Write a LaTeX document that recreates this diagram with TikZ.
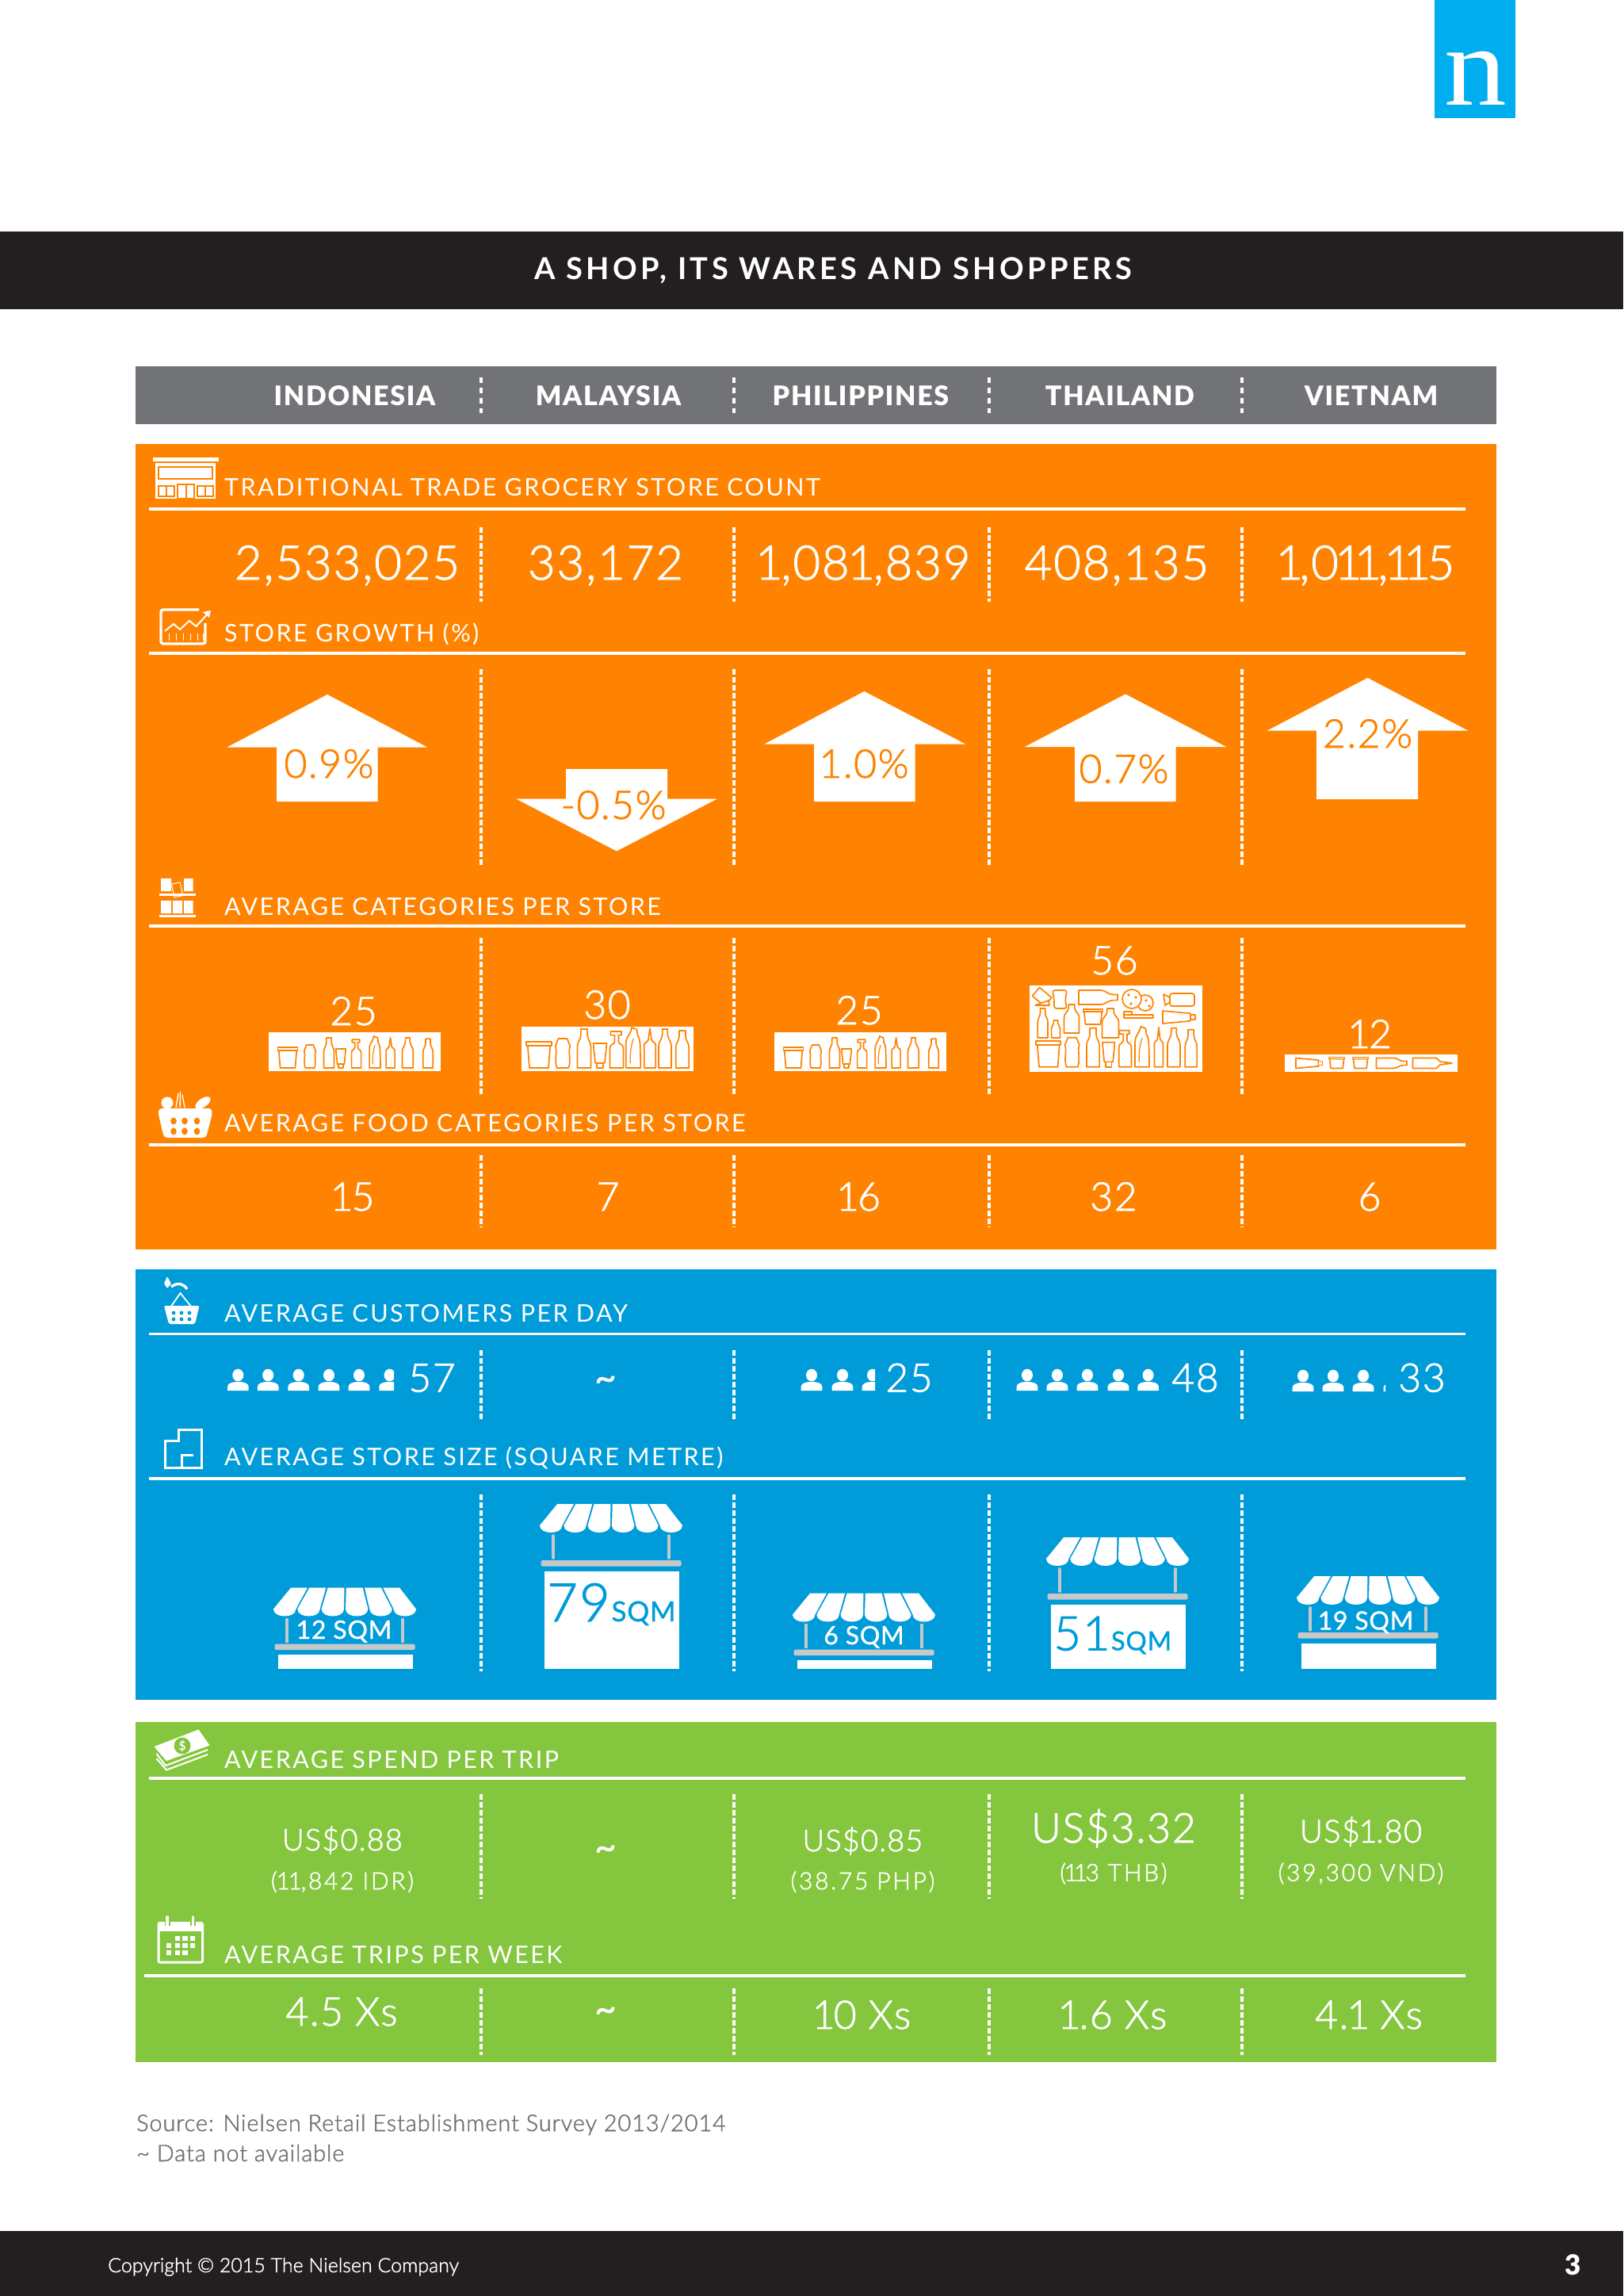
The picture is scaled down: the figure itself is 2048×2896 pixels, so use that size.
\documentclass[tikz,border=0pt]{standalone}
\usepackage{fontspec}
\setmainfont{Lato}
\newfontfamily\lightface[LetterSpace=3,FakeBold=1.5]{Lato Light}
\newfontfamily\wideface[LetterSpace=9,FakeBold=1.5]{Lato Light}
\newfontfamily\plainface[FakeBold=1.5]{Lato Light}
\newfontfamily\headface[LetterSpace=8]{Lato}
\newfontfamily\boldface[LetterSpace=5]{Lato Black}
\newfontfamily\titleface[LetterSpace=11.5]{Lato Bold}
\newfontfamily\midface[LetterSpace=2,FakeBold=1]{Lato}
\newfontfamily\logoface{Liberation Serif}
\newcommand{\lt}[1]{\lightface\fontsize{#1}{#1}\selectfont}
\newcommand{\bd}[1]{\boldface\fontsize{#1}{#1}\selectfont}
\newcommand{\md}[1]{\midface\fontsize{#1}{#1}\selectfont}
% the digit one of this font is too wide
\newcommand{\one}{\kern-.085em 1\kern-.085em}
\newcommand{\onea}{\kern-.04em 1\kern-.04em}
\definecolor{brandorange}{HTML}{FF8300}
\definecolor{brandblue}{HTML}{009CDA}
\definecolor{brandgreen}{HTML}{85C63F}
\definecolor{branddark}{HTML}{231F20}
\definecolor{brandgrey}{HTML}{727376}
\definecolor{brandcyan}{HTML}{00AEEF}
\definecolor{polegrey}{HTML}{C7C8CA}
\tikzset{
  val/.style={anchor=base,inner sep=0pt,text=white},
  heading/.style={anchor=base west,inner sep=0pt,text=white,font=\headface\fontsize{30.5}{30.5}\selectfont},
  rule/.style={white,line width=3.2pt},
  sep/.style={white,line width=3.4pt,dash pattern=on 6.5pt off 3.5pt},
  goods/.style={draw=brandorange,fill=white,line width=1.7pt,line join=round},
  tub/.pic={\path[goods] (-.45,-.85) -- (-.38,0) -- (.38,0) -- (.45,-.85) -- cycle;
    \path[goods] (-.5,-1) rectangle (.5,-.85);},
  bottle/.pic={\path[goods] (-.5,0) -- (-.5,-.55) .. controls (-.5,-.7) and (-.2,-.75) .. (-.2,-.88) -- (-.2,-1) -- (.2,-1) -- (.2,-.88) .. controls (.2,-.75) and (.5,-.7) .. (.5,-.55) -- (.5,0) -- cycle;},
  slim/.pic={\path[goods] (-.45,0) -- (-.45,-.55) .. controls (-.45,-.68) and (-.22,-.72) .. (-.22,-.85) -- (-.22,-1) -- (.22,-1) -- (.22,-.85) .. controls (.22,-.72) and (.45,-.68) .. (.45,-.55) -- (.45,0) -- cycle;},
  smallbot/.pic={\path[goods] (-.4,0) .. controls (-.6,-.3) and (-.35,-.5) .. (-.5,-.75) -- (-.3,-1) -- (.3,-1) -- (.5,-.75) .. controls (.35,-.5) and (.6,-.3) .. (.4,0) -- cycle;},
  tubedown/.pic={\path[goods] (-.5,-1) -- (.5,-1) -- (.35,-.2) -- (-.35,-.2) -- cycle;
    \path[goods] (-.25,-.2) rectangle (.25,0);},
  tubeup/.pic={\path[goods] (-.5,0) -- (.5,0) -- (.3,-.85) -- (-.3,-.85) -- cycle;
    \path[goods] (-.2,-.85) rectangle (.2,-1);},
  pump/.pic={\path[goods] (-.5,0) -- (-.5,-.55) .. controls (-.5,-.65) and (-.15,-.65) .. (-.15,-.72) -- (-.15,-.9) -- (-.45,-.9) -- (-.45,-1) -- (.35,-1) -- (.35,-.9) -- (.15,-.9) -- (.15,-.72) .. controls (.15,-.65) and (.5,-.65) .. (.5,-.55) -- (.5,0) -- cycle;},
  cleaner/.pic={\path[goods] (-.5,0) -- (-.5,-.6) .. controls (-.5,-.8) and (-.2,-.8) .. (-.1,-1) -- (.25,-.95) -- (.3,-.8) .. controls (.55,-.7) and (.45,-.4) .. (.5,-.2) -- (.5,0) -- cycle;
    \draw[brandorange,line width=1.2pt] (-.2,-.12) .. controls (-.25,-.4) and (-.1,-.6) .. (0,-.72);},
  nozzle/.pic={\path[goods] (-.5,0) -- (-.5,-.6) -- (-.15,-.7) -- (0,-1) -- (.15,-.7) -- (.5,-.6) -- (.5,0) -- cycle;},
  person/.pic={\fill[white] (-13.3,0) -- (-13.3,-5) .. controls (-13.3,-9) and (-8,-10.5) .. (-3,-11) -- (3,-11) .. controls (8,-10.5) and (13.3,-9) .. (13.3,-5) -- (13.3,0) -- cycle;
    \fill[white] (0,-19.5) ellipse (7 and 7.8);},
  awning/.pic={
    \foreach \i [evaluate=\i as \ta using {-69+23.2*\i},evaluate=\i as \tb using {-69+23.2*(\i+1)},evaluate=\i as \ba using {-91+30.33*\i},evaluate=\i as \bb using {-91+30.33*(\i+1)}] in {0,...,5}
      \fill[white] (\ta+1.2,0) -- (\ba+1,27) .. controls (\ba+1,39) and (\bb-1,39) .. (\bb-1,27) -- (\tb-1.2,0) -- cycle;
    \draw[polegrey,line width=3.6pt,line cap=round] (-73,40) -- (-73,68) (73,40) -- (73,68);
    \fill[polegrey,rounded corners=1.5pt] (-88.5,71) rectangle (88.5,78.5);}
}
\newcommand{\shelfrow}[3]{\foreach \kind/\cx/\w/\h in #3 {\pic[xscale=\w,yscale=\h] at ({#1+\cx},#2) {\kind};}}
\newcommand{\shop}[2]{\pic at (#1,#2) {awning};
  \fill[white] ({#1-84},{#2+84.5}) rectangle ({#1+85.5},2105);}
\def\shelfsmall{tub/24/25/26,smallbot/52/14.4/29,slim/76/14.4/38,tubedown/91/12.6/24,pump/110.6/12/35.7,cleaner/134/13.8/40,nozzle/153.6/11/38,bottle/175.4/13.8/38,slim/201/13.8/36.7}
\def\shelflarge{tub/22/31.6/33,smallbot/52/18.4/37,slim/79/19/49,tubedown/99/17/31,pump/120/17/46,cleaner/141/18.4/51,nozzle/162/14.4/50,bottle/181/16/49,slim/203/18.4/47}
\begin{document}
\begin{tikzpicture}[x=1pt,y=-1pt]
\useasboundingbox (0,0) rectangle (2048,2896);
\fill[white] (0,0) rectangle (2048,2896);
% logo and bars
\fill[brandcyan] (1810,0) rectangle (1912,149);
\node[val,font=\logoface\fontsize{143}{143}\selectfont] (logo) at (1862,132) {\scalebox{1.1}[1]{n}};
\fill[branddark] (0,292) rectangle (2048,390);
\node[val,font=\titleface\fontsize{38}{38}\selectfont] (title) at (1051,352) {A SHOP, ITS WARES AND SHOPPERS};
\fill[brandgrey] (171,462) rectangle (1888,535);
\fill[brandorange] (171,559.5) rectangle (1888,1576);
\fill[brandblue] (171,1600.5) rectangle (1888,2143.5);
\fill[brandgreen] (171,2171.5) rectangle (1888,2601);
\fill[branddark] (0,2814) rectangle (2048,2896);
% countries
\foreach \i/\cx/\txt in {a/447.5/INDONESIA,b/767.5/MALAYSIA,c/1086/PHILIPPINES,d/1413/THAILAND,e/1730/VIETNAM}
  \node[val,font=\bd{34}] (country\i) at (\cx,511) {\txt};
% rules and separators
\foreach \ry in {642,824,1168,1444,1682.5,1865,2243}
  \draw[rule] (188,\ry) -- (1849,\ry);
\draw[rule] (181.5,2492) -- (1849,2492);
\foreach \top/\bot in {665/759,844/1092,1183/1383,1457/1548,1703/1793,1885/2108,2263/2395,2508/2592}
  \foreach \col in {607,926,1248,1567}
    \draw[sep] (\col,\top) -- (\col,\bot);
\foreach \col in {607,926,1248,1567}
  \draw[sep,dash pattern=on 7pt off 6pt] (\col,476) -- (\col,521);
% section headings
\foreach \i/\by/\txt in {a/625.5/TRADITIONAL TRADE GROCERY STORE COUNT,b/809/STORE GROWTH (\%),c/1154/AVERAGE CATEGORIES PER STORE,d/1427.5/AVERAGE FOOD CATEGORIES PER STORE,e/1667/AVERAGE CUSTOMERS PER DAY,f/1848/AVERAGE STORE SIZE (SQUARE METRE),g/2230/AVERAGE SPEND PER TRIP,h/2476/AVERAGE TRIPS PER WEEK}
  \node[heading] (head\i) at (283,\by) {\txt};
% store count
\foreach \i/\cx/\txt in {a/438/{2,533,025},b/764/{33,172},c/1090/{\onea,08\onea,839},d/1409/{408,135},e/1725/{\one,0\one\one,\one\one5}}
  \node[val,font=\lt{60}] (count\i) at (\cx,731) {\txt};
% growth arrows
\fill[white] (413,876) -- (539,942.5) -- (476.5,942.5) -- (476.5,1011) -- (349,1011) -- (349,942.5) -- (286.5,942.5) -- cycle;
\fill[white] (778,1073.5) -- (905,1007.5) -- (842,1007.5) -- (842,970) -- (714,970) -- (714,1007.5) -- (651,1007.5) -- cycle;
\fill[white] (1090.5,872) -- (1218,938.5) -- (1154.5,938.5) -- (1154.5,1011) -- (1027,1011) -- (1027,938.5) -- (964.5,938.5) -- cycle;
\fill[white] (1420,875.5) -- (1547,942) -- (1483.5,942) -- (1483.5,1011) -- (1356,1011) -- (1356,942) -- (1293,942) -- cycle;
\fill[white] (1725.5,855) -- (1852,921.5) -- (1789,921.5) -- (1789,1008) -- (1661,1008) -- (1661,921.5) -- (1599,921.5) -- cycle;
\foreach \i/\cx/\by/\txt in {a/415/981/0.9\%,b/774/1033/-0.5\%,c/1090/981/1.0\%,d/1418/987.5/0.7\%,e/1725.5/943/2.2\%}
  \node[val,text=brandorange,font=\lt{50}] (growth\i) at (\cx,\by) {\txt};
% categories
\foreach \i/\cx/\by/\txt in {a/446/1293/25,b/766/1285/30,c/1084/1292/25,d/1406/1229/56,e/1729/1322/{\onea 2}}
  \node[val,font=\lt{50}] (cat\i) at (\cx,\by) {\txt};
\fill[white] (339,1302) rectangle (556,1351);
\fill[white] (658,1295) rectangle (875,1351);
\fill[white] (977,1302) rectangle (1194,1351);
\fill[white] (1299,1243) rectangle (1516.5,1352);
\fill[white] (1621,1330) rectangle (1839,1352);
\shelfrow{339}{1347}{\shelfsmall}
\shelfrow{977}{1347}{\shelfsmall}
\shelfrow{658}{1347}{\shelflarge}
% bottom row of the big box, then the two upper rows
\foreach \kind/\cx/\w/\h in {tub/1322.8/31/33,smallbot/1352.7/18/37,slim/1379/18/49,tubedown/1398.7/15.6/31,pump/1419.6/15.6/46,cleaner/1441/18/51,nozzle/1462/11/50,bottle/1481/16/49,slim/1502.7/16.5/47}
  \pic[xscale=\w,yscale=\h] at (\cx,1345.7) {\kind};
\foreach \kind/\cx/\by/\w/\h in {slim/1315.6/1309/14/37,slim/1332/1309/12/22,bottle/1352/1303/19/36,tub/1379/1292/25/19,bottle/1401/1309/21/37}
  \pic[xscale=\w,yscale=\h] at (\cx,\by) {\kind};
\path[goods] (1418,1280) -- (1455,1280) -- (1455,1284) -- (1418,1284) -- cycle;
\path[goods] (1418,1276) rectangle (1428,1280);
\pic[rotate=-90,xscale=16,yscale=41] at (1467,1283) {tubeup};
\pic[rotate=-90,xscale=18,yscale=49] at (1361,1258) {bottle};
\path[goods,rotate around={-40:(1314,1258)}] (1304,1250) rectangle (1324,1264);
\path[goods] (1306,1268) -- (1323,1262) -- (1324,1268) -- cycle;
\path[goods,rounded corners=3pt] (1328,1249) -- (1346,1249) -- (1344,1262) -- (1346,1272) -- (1330,1272) -- (1330,1262) -- cycle;
\path[goods] (1445,1265) circle (10);
\path[goods] (1428,1260) circle (12);
\foreach \dx/\dy in {1424/1255,1433/1258,1427/1266,1446/1262,1450/1269}
  \fill[brandorange] (\dx,\dy) circle (1.8);
\path[goods,rounded corners=3pt] (1476,1253) rectangle (1507,1269);
\path[goods] (1476,1258) -- (1468,1254) -- (1470,1268) -- (1476,1264) -- cycle;
% the small box
\pic[rotate=-90,xscale=13,yscale=33.5] at (1635,1341) {tubeup};
\pic[xscale=20,yscale=14] at (1686.6,1347.5) {tub};
\pic[xscale=20,yscale=14] at (1716.5,1347.5) {tub};
\pic[rotate=-90,xscale=13,yscale=38.5] at (1736.5,1341) {bottle};
\pic[rotate=-90,xscale=13,yscale=49.5] at (1782.5,1341) {nozzle};
% food categories
\foreach \i/\cx/\txt in {a/445.5/{\onea 5},b/767/7,c/1084/{\onea 6},d/1405/32,e/1728/6}
  \node[val,font=\lt{50}] (food\i) at (\cx,1527) {\txt};
% customers
\foreach \px in {300.3,338.2,376.7,415,453} \pic at (\px,1754) {person};
\begin{scope} \clip (470,1720) rectangle (497,1760); \pic at (491.6,1754) {person}; \end{scope}
\foreach \px in {1024,1063} \pic at (\px,1754) {person};
\begin{scope} \clip (1085,1720) rectangle (1104,1760); \pic at (1101,1754) {person}; \end{scope}
\foreach \px in {1296,1334,1372,1411,1448.6} \pic at (\px,1754) {person};
\foreach \px in {1644,1682,1720} \pic at (\px,1755) {person};
\begin{scope} \clip (1740,1720) rectangle (1748,1760); \pic at (1759,1755) {person}; \end{scope}
\foreach \i/\cx/\txt in {a/545/57,c/1147/25,d/1508/48,e/1794/33}
  \node[val,font=\lt{50}] (cust\i) at (\cx,1755.5) {\txt};
% shops
\shop{435}{2002.5}
\shop{771}{1897}
\shop{1090}{2009.5}
\shop{1410}{1939}
\shop{1726}{1988}
\foreach \i/\cx/\by/\txt in {a/434/2067/12 SQM,c/1090/2074/6 SQM,e/1723/2055.5/19 SQM}
  \node[val,font=\md{32}] (size\i) at (\cx,\by) {\txt};
\node[val,text=brandblue,font=\lt{67}] (sizeb) at (730,2045) {79};
\node[val,text=brandblue,font=\md{35}] (unitb) at (812,2045) {SQM};
\node[val,text=brandblue,font=\lt{60}] (sized) at (1365,2081.5) {51};
\node[val,text=brandblue,font=\md{33}] (unitd) at (1440,2081.5) {SQM};
% spend and trips
\foreach \i/\cx/\by/\fs/\txt in {a/432/2334/38/{US\$0.88},c/1088.5/2335/38/{US\$0.85},d/1405/2324/52/{US\$3.32},e/1717/2324/40/{US\$\onea.80}}
  \node[val,font=\lt{\fs}] (spend\i) at (\cx,\by) {\txt};
\foreach \i/\cx/\by/\txt in {a/432/2383/{(\onea\onea,842 IDR)},c/1088.5/2383/{(38.75 PHP)},d/1405/2372.5/{(\one\one3 THB)},e/1717/2372.5/{(39,300 VND)}}
  \node[val,font=\wideface\fontsize{30}{30}\selectfont] (local\i) at (\cx,\by) {\txt};
\foreach \i/\cx/\by/\txt in {a/431/2555/4.5 Xs,c/1088/2559/{\onea 0 Xs},d/1404.5/2559/{\onea.6 Xs},e/1727/2559/{4.\onea{} Xs}}
  \node[val,font=\lt{50}] (trips\i) at (\cx,\by) {\txt};
\foreach \i/\cy in {a/1745,b/2337,c/2541}
  \node[inner sep=0pt,text=white,font=\md{48}] (none\i) at (764,\cy) {\textasciitilde};
% store icon
\fill[white] (193,577) rectangle (276,582);
\fill[white] (196,584) rectangle (272,629);
\draw[brandorange,line width=2pt] (200,589) rectangle (268,604);
\draw[brandorange,line width=2pt] (200,613) rectangle (220,626) (210,613) -- (210,626) (224,611) rectangle (245,629) (234.5,611) -- (234.5,629) (249,613) rectangle (269,626) (259,613) -- (259,626);
% chart icon
\draw[white,line width=3.2pt,rounded corners=3pt] (251,769) -- (203,769) -- (203,812) -- (259,812) -- (259,786);
\draw[white,line width=2pt] (208,796) -- (219,787) -- (227,794) -- (239,783) -- (247.5,790) -- (264,772);
\fill[white] (266,770) -- (256,772) -- (264,779) -- cycle;
\foreach \bx in {213,222,231,240,249,256}
  \draw[white,line width=.9pt] (\bx,799) -- (\bx,808);
% shelf icon
\fill[white] (203,1108) rectangle (216,1124) (232,1108) rectangle (243.5,1124);
\fill[white] (200.5,1127) rectangle (247,1130);
\fill[white] (203,1136) rectangle (216,1152) (218,1136) rectangle (230,1152) (232,1136) rectangle (243.5,1152);
\fill[white] (200.5,1154) rectangle (247,1157);
\draw[white,line width=1pt,rotate around={12:(223,1122)}] (218,1114) rectangle (229,1131);
% food basket icon
\fill[white,rounded corners=4pt] (200,1398) -- (267.5,1398) -- (267.5,1406) -- (260,1435) -- (207,1435) -- (200,1406) -- cycle;
\foreach \hx in {219,233,248.5} \foreach \hy in {1414,1427}
  \fill[brandorange] (\hx,\hy) ellipse (3.8 and 4.4);
\fill[white] (211,1391) circle (7.5);
\draw[white,line width=1.4pt] (222,1397) -- (225,1379) (227,1397) -- (227.5,1377) (233,1397) -- (230,1381);
\fill[white,rotate around={-55:(256,1391)}] (256,1391) ellipse (5.5 and 11);
% hand and basket icon
\fill[white,rounded corners=1pt] (207,1619) -- (211,1610) -- (216,1619) -- (211,1625) -- cycle;
\draw[white,line width=3.4pt] (216,1623) .. controls (224,1617) and (232,1619) .. (236,1626);
\draw[white,line width=1.8pt] (215,1649) -- (227.5,1631) -- (242,1649);
\fill[white,rounded corners=2pt] (207,1647) -- (251.5,1647) -- (246,1670) -- (213,1670) -- cycle;
\foreach \hx in {219,229,239} \foreach \hy in {1656,1664}
  \fill[brandblue] (\hx,\hy) circle (2.4);
% floor plan icon
\draw[white,line width=3pt] (225.5,1803) -- (254,1803) -- (254,1851) -- (208.5,1851) -- (208.5,1817.5) -- (225.5,1817.5) -- cycle;
\draw[white,line width=3pt] (229,1851) -- (229,1835) -- (243.5,1835);
% money icon
\fill[white] (250.5,2181.5) -- (264.5,2201.5) -- (210,2221) -- (194.5,2203) -- cycle;
\fill[brandgreen] (230,2202) circle (10.5);
\node[inner sep=0pt,text=white,font=\md{15}] (dollar) at (230,2202) {\$};
\draw[white,line width=2pt] (197.5,2212) -- (209,2227) -- (262,2207) (197.5,2218) -- (210,2232.5) -- (262,2213);
% calendar icon
\draw[white,line width=3pt,rounded corners=2pt] (200,2425.5) rectangle (255.5,2475);
\fill[white] (200,2425) rectangle (255.5,2436);
\foreach \tx in {211,243.5}
  \draw[white,line width=3.6pt,line cap=round,preaction={draw=brandgreen,line width=7pt}] (\tx,2418) -- (\tx,2429);
\foreach \gx/\gy in {224/2445,233.5/2445,243/2445,213/2454,224/2454,233.5/2454,243/2454,213/2463,224/2463,233.5/2463}
  \fill[white] (\gx-3.4,\gy-3.4) rectangle (\gx+3.4,\gy+3.4);
% notes
\node[anchor=base west,inner sep=0pt,text=brandgrey,font=\lt{29}] (source) at (172,2688) {Source: Nielsen Retail Establishment Survey 2013/2014};
\node[anchor=base west,inner sep=0pt,text=brandgrey,font=\lt{29}] (tilde) at (172,2726) {\textasciitilde{} Data not available};
\node[anchor=base west,inner sep=0pt,text=white,font=\plainface\fontsize{25}{25}\selectfont] (copyright) at (136,2866) {Copyright © 2015 The Nielsen Company};
\node[val,font=\bd{35}] (page) at (1985,2869) {3};
\end{tikzpicture}
\end{document}
